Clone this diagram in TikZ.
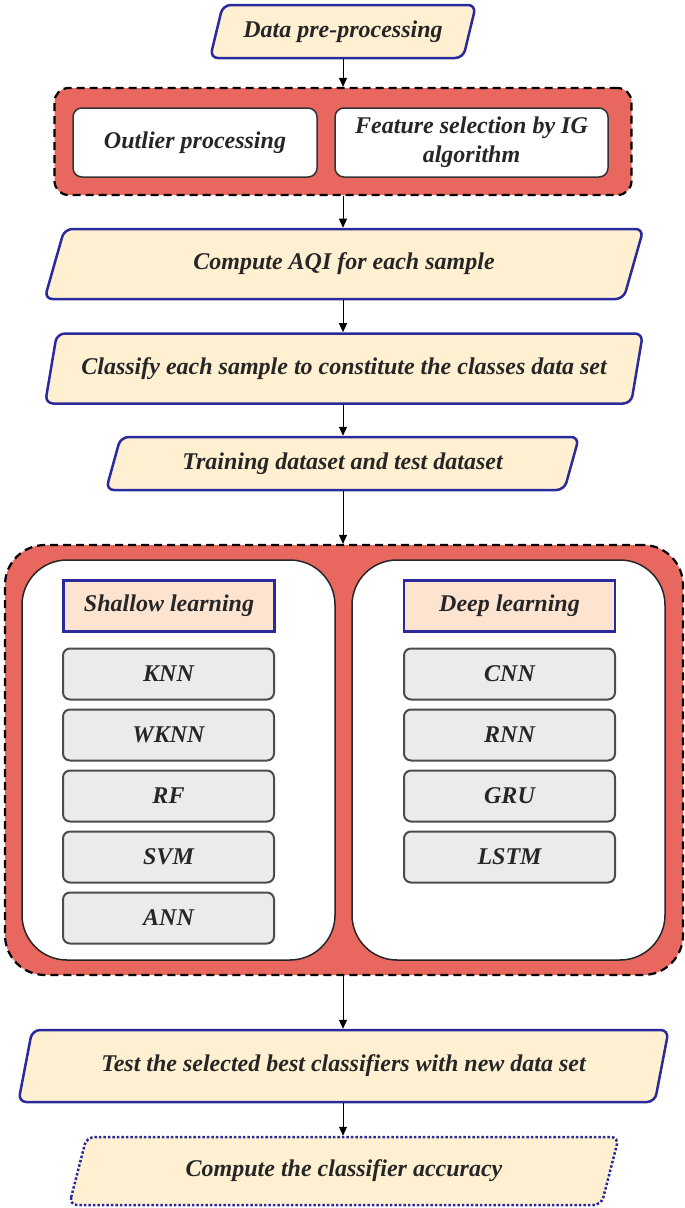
\documentclass[tikz,border=0pt]{standalone}
\usepackage{fontspec}
\setmainfont{Liberation Serif}
\usetikzlibrary{shapes.geometric,arrows.meta}
\definecolor{pfill}{HTML}{FFF0D2}
\definecolor{pblue}{HTML}{2A2A9C}
\definecolor{cred}{HTML}{E8685F}
\definecolor{hfill}{HTML}{FDE4D0}
\definecolor{gfill}{HTML}{EBEBEB}
\newcommand{\txtfont}{\fontsize{24}{29}\selectfont\bfseries\itshape}
\tikzset{
 para/.style={trapezium, trapezium left angle=64, trapezium right angle=116,
   trapezium stretches=true, draw=pblue, line width=2.5pt, fill=pfill,
   rounded corners=8pt, inner sep=0pt, font=\txtfont, text=black!85},
 container/.style={draw=black, fill=cred, dashed, dash pattern=on 8pt off 5pt,
   line width=2.2pt, rounded corners=#1},
 whitebox/.style={draw=black!80, fill=white, line width=1.5pt, rounded corners=9pt,
   font=\txtfont, align=center, text=black!85},
 panel/.style={draw=black!85, fill=white, line width=1.5pt, rounded corners=45pt},
 headbox/.style={draw=pblue, fill=hfill, line width=2.5pt, minimum width=211pt,
   minimum height=51pt, font=\txtfont, text=black!85},
 algbox/.style={draw=black!70, fill=gfill, line width=2pt, rounded corners=7pt,
   minimum width=211pt, minimum height=51pt, font=\txtfont, text=black!85},
 arr/.style={-{Triangle[length=9pt,width=8pt]}, line width=1pt, black}
}
\begin{document}
\begin{tikzpicture}[x=1pt,y=-1pt]
\useasboundingbox (0,0) rectangle (685,1208);
% 1
\node[para, minimum width=266pt, minimum height=53pt] (dp) at (343,31.5) {Data pre-processing};
% container 1
\node[container=14pt, minimum width=577pt, minimum height=107pt] (pre) at (343,141.5) {};
\node[whitebox, minimum width=244pt, minimum height=69pt] (out) at (195,142.5) {Outlier processing};
\node[whitebox, minimum width=273pt, minimum height=69pt] (feat) at (471.5,142.5) {Feature selection by IG\\algorithm};
% 3,4,5
\node[para, minimum width=602pt, minimum height=70pt] (aqi) at (344,264) {Compute AQI for each sample};
\node[para, minimum width=602pt, minimum height=70pt] (cls) at (344,368.5) {Classify each sample to constitute the classes data set};
\node[para, minimum width=475pt, minimum height=53pt] (trn) at (342.5,463.5) {Training dataset and test dataset};
% big container
\node[container=40pt, minimum width=678pt, minimum height=430pt] (big) at (344,760) {};
\node[panel, minimum width=313pt, minimum height=400pt] (left) at (178.5,760) {};
\node[panel, minimum width=313pt, minimum height=400pt] (right) at (508.5,760) {};
\node[headbox] (sh) at (169,606) {Shallow learning};
\node[headbox] (dl) at (509.5,606) {Deep learning};
\node[algbox] (knn) at (168.5,674) {KNN};
\node[algbox] (wknn) at (168.5,735) {WKNN};
\node[algbox] (rf) at (168.5,796) {RF};
\node[algbox] (svm) at (168.5,857) {SVM};
\node[algbox] (ann) at (168.5,918) {ANN};
\node[algbox] (cnn) at (509.5,674) {CNN};
\node[algbox] (rnn) at (509.5,735) {RNN};
\node[algbox] (gru) at (509.5,796) {GRU};
\node[algbox] (lstm) at (509.5,857) {LSTM};
% bottom
\node[para, minimum width=653pt, minimum height=72pt] (test) at (343.5,1066) {Test the selected best classifiers with new data set};
\node[para, minimum width=552pt, minimum height=68pt, dotted, line width=2.5pt] (acc) at (344,1171) {Compute the classifier accuracy};
% arrows
\draw[arr] (343,0 |- dp.south) -- (343,0 |- pre.north);
\draw[arr] (343,0 |- pre.south) -- (343,0 |- aqi.north);
\draw[arr] (343,0 |- aqi.south) -- (343,0 |- cls.north);
\draw[arr] (343,0 |- cls.south) -- (343,0 |- trn.north);
\draw[arr] (343,0 |- trn.south) -- (343,0 |- big.north);
\draw[arr] (343,0 |- big.south) -- (343,0 |- test.north);
\draw[arr] (343,0 |- test.south) -- (343,0 |- acc.north);
\end{tikzpicture}
\end{document}
